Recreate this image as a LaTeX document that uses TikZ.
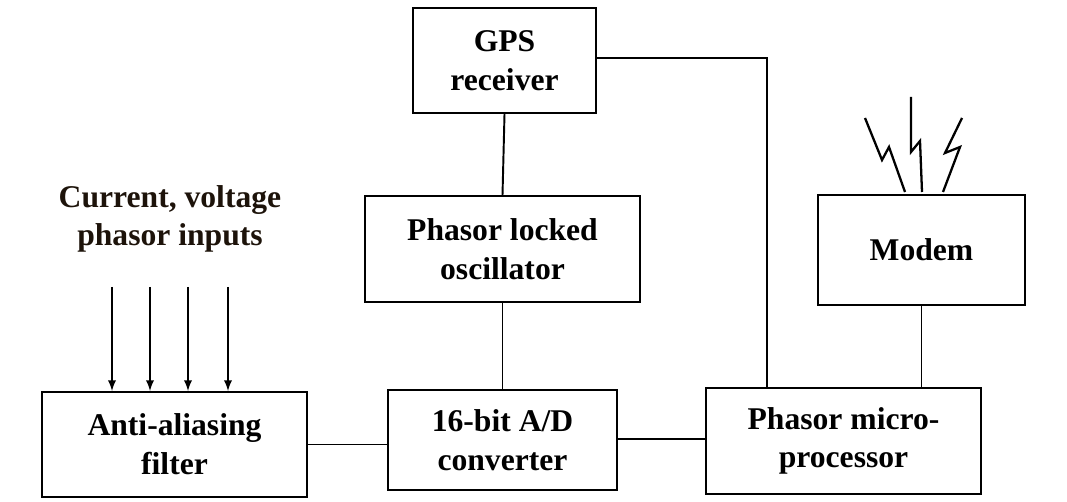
\documentclass[tikz,border=0pt]{standalone}
\usepackage{fontspec}
\setmainfont{Liberation Serif}
\begin{document}
\begin{tikzpicture}[x=0.02cm,y=-0.02cm,line width=1.1pt,
  box/.style={draw,align=center,font=\fontsize{18}{22}\selectfont\bfseries,inner sep=0},
  lbl/.style={align=center,font=\fontsize{18}{22}\selectfont\bfseries,text=black!85!brown}]
\useasboundingbox (0,0) rectangle (1067,502);
\node[box,minimum width=183*0.02cm,minimum height=105*0.02cm] (gps) at (504.5,60.5) {GPS\\receiver};
\node[box,minimum width=275*0.02cm,minimum height=106*0.02cm] (plo) at (502.5,249) {Phasor locked\\oscillator};
\node[box,minimum width=207*0.02cm,minimum height=110*0.02cm] (modem) at (921.5,250) {Modem};
\node[box,minimum width=265*0.02cm,minimum height=105*0.02cm] (aa) at (174.5,444.5) {Anti-aliasing\\filter};
\node[box,minimum width=229*0.02cm,minimum height=100*0.02cm] (ad) at (502.5,440) {16-bit A/D\\converter};
\node[box,minimum width=275*0.02cm,minimum height=106*0.02cm] (mp) at (843.5,441) {Phasor micro-\\processor};
\node[lbl] (in) at (170,219) {Current, voltage\\phasor inputs};
\draw (gps.south) -- (plo.north);
\draw (plo.south) -- (ad.north);
\draw (aa.east) -- (ad.west|-aa.east);
\draw ([yshift=0.02cm]ad.east) -- ([yshift=0.02cm]ad.east-|mp.west);
\coordinate (c1) at (767,58);
\draw (gps.east|-c1) -- (c1) -- (c1|-mp.north);
\draw (modem.south) -- (modem.south|-mp.north);
\foreach \x in {112,150,188,228} {
  \coordinate (t) at (\x,287);
  \draw[-latex] (t) -- (t|-aa.north);
}
\draw[line width=1.3pt] (865,118) -- (882,160) -- (889,147) -- (905,192);
\draw[line width=1.3pt] (911,97) -- (911,152) -- (920,141) -- (922,192);
\draw[line width=1.3pt] (962,118) -- (945,153) -- (960,147) -- (943,192);
\end{tikzpicture}
\end{document}
